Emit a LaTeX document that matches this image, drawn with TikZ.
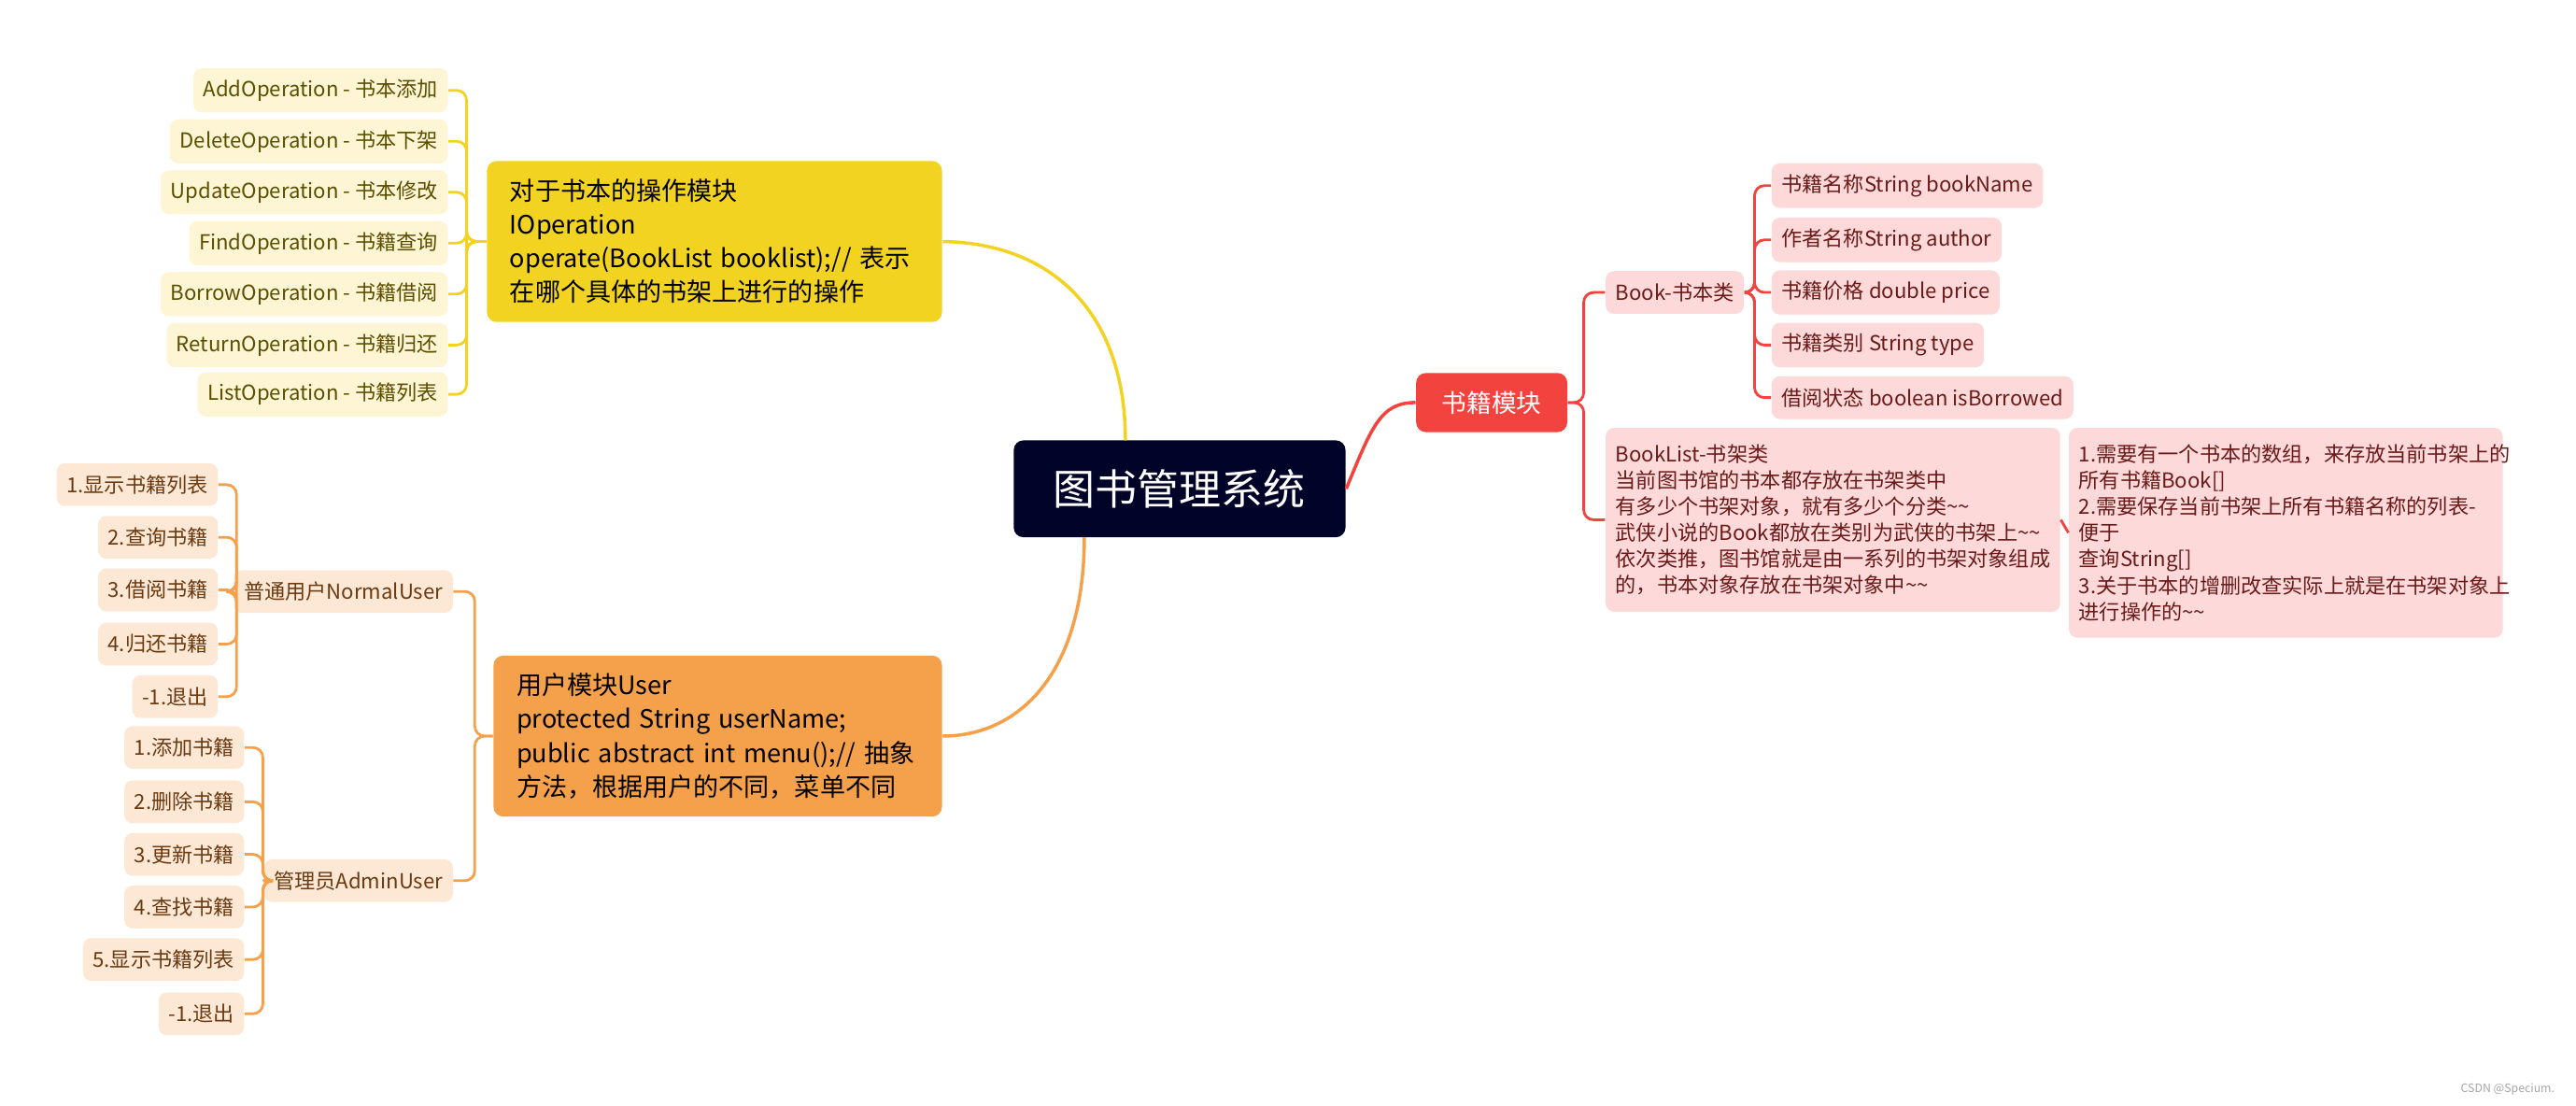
\documentclass[tikz,border=0pt]{standalone}
\usepackage{fontspec}
\setmainfont{Noto Sans CJK SC}
\begin{document}
\begin{tikzpicture}[x=0.5pt,y=-0.5pt,
  lbl/.style={rounded corners=2.5pt,minimum height=13pt,inner xsep=3pt,font=\fontsize{6.3}{8}\selectfont},
  yl/.style={lbl,fill=yfill,text=ytext},
  ol/.style={lbl,fill=ofill,text=otext},
  rl/.style={lbl,fill=rfill,text=rtext},
  ylink/.style={draw=yline,line width=0.8pt,rounded corners=3pt},
  olink/.style={draw=oline,line width=0.8pt,rounded corners=3pt},
  rlink/.style={draw=rline,line width=0.8pt,rounded corners=3pt},
  modbox/.style={rounded corners=3pt,minimum height=49pt,inner xsep=7pt,align=left,font=\fontsize{7.7}{10.25}\selectfont}]
\definecolor{yfill}{HTML}{FDF5D3}\definecolor{ytext}{HTML}{5C4E00}\definecolor{yline}{HTML}{F2D322}
\definecolor{ofill}{HTML}{FDE8D6}\definecolor{otext}{HTML}{6B3A10}\definecolor{oline}{HTML}{F5A04B}
\definecolor{rfill}{HTML}{FDD9D9}\definecolor{rtext}{HTML}{6B1A1A}\definecolor{rline}{HTML}{F2433F}
\useasboundingbox[fill=white] (0,0) rectangle (1568,673);
% center
\node[fill={rgb,255:red,2;green,3;blue,40},text=white,rounded corners=3pt,minimum width=101pt,minimum height=29.5pt,font=\fontsize{12.8}{14}\selectfont] (c) at (718,297.5) {图书管理系统};
% yellow module
\node[modbox,fill=yline,text width=124.5pt,anchor=west] (y) at (296,147) {对于书本的操作模块\\IOperation\\operate(BookList booklist);// 表示\\在哪个具体的书架上进行的操作};
% orange module
\node[modbox,fill=oline,text width=122.5pt,anchor=west] (o) at (300,448) {用户模块User\\protected String userName;\\public abstract int menu();// 抽象\\方法，根据用户的不同，菜单不同};
% red module
\node[fill=rline,text=white,rounded corners=3pt,minimum width=46pt,minimum height=18pt,font=\fontsize{7.6}{9}\selectfont] (r) at (908,245) {书籍模块};
\draw[yline,line width=1pt] (685,268) .. controls (685,190) and (640,148) .. (y.east);
\draw[oline,line width=1pt] (660,327) .. controls (660,410) and (620,448) .. (o.east);
\draw[rline,line width=1pt] (c.east) .. controls (835,260) and (840,245) .. (r.west);
% yellow children
\foreach \n/\t/\yy in {ya/AddOperation - 书本添加/55,yb/DeleteOperation - 书本下架/86,yc/UpdateOperation - 书本修改/117,yd/FindOperation - 书籍查询/148,ye/BorrowOperation - 书籍借阅/179,yf/ReturnOperation - 书籍归还/210,yg/ListOperation - 书籍列表/240}{
  \node[yl,anchor=east] (\n) at (273,\yy) {\t};
  \draw[ylink] (y.west) -- (284,147) |- (\n.east);
}
% orange children
\node[ol,anchor=east] (nu) at (276,360) {普通用户NormalUser};
\node[ol,anchor=east] (au) at (276,536) {管理员AdminUser};
\foreach \n in {nu,au}{\draw[olink] (o.west) -- (289,448) |- (\n.east);}
\foreach \n/\t/\yy in {n1/1.显示书籍列表/295,n2/2.查询书籍/327,n3/3.借阅书籍/359,n4/4.归还书籍/392,n5/-1.退出/424}{
  \node[ol,anchor=east] (\n) at (133,\yy) {\t};
  \draw[olink] (nu.west) -- (144,360) |- (\n.east);
}
\foreach \n/\t/\yy in {a1/1.添加书籍/455,a2/2.删除书籍/488,a3/3.更新书籍/520,a4/4.查找书籍/552,a5/5.显示书籍列表/584,a6/-1.退出/617}{
  \node[ol,anchor=east] (\n) at (149,\yy) {\t};
  \draw[olink] (au.west) -- (160,536) |- (\n.east);
}
% red children
\node[rl,anchor=west] (bk) at (977,178) {Book-书本类};
\node[rl,anchor=north west,align=left,inner ysep=5pt,minimum height=51pt,font=\fontsize{6.3}{8}\selectfont] (bl) at (977,260) {BookList-书架类\\当前图书馆的书本都存放在书架类中\\有多少个书架对象，就有多少个分类\textasciitilde\textasciitilde\\武侠小说的Book都放在类别为武侠的书架上\textasciitilde\textasciitilde\\依次类推，图书馆就是由一系列的书架对象组成\\的，书本对象存放在书架对象中\textasciitilde\textasciitilde};
\node[rl,anchor=north west,align=left,inner ysep=5pt,minimum height=51pt,text width=126pt,font=\fontsize{6.3}{8}\selectfont] (bn) at (1259,260) {1.需要有一个书本的数组，来存放当前书架上的\\所有书籍Book[]\\2.需要保存当前书架上所有书籍名称的列表-便于\\查询String[]\\3.关于书本的增删改查实际上就是在书架对象上\\进行操作的\textasciitilde\textasciitilde};
\foreach \n in {bk,bl}{\draw[rlink] (r.east) -- (964,245) |- (\n.west);}
\draw[rlink] (bl.east) -- (bn.west);
\foreach \n/\t/\yy in {b1/书籍名称String bookName/113,b2/作者名称String author/146,b3/书籍价格 double price/178,b4/书籍类别 String type/210,b5/借阅状态 boolean isBorrowed/242}{
  \node[rl,anchor=west] (\n) at (1078,\yy) {\t};
  \draw[rlink] (bk.east) -- (1068,178) |- (\n.west);
}
\node[text=gray!70,font=\fontsize{3.5}{4}\selectfont,anchor=east] (wm) at (1562,663) {CSDN @Specium.};
\end{tikzpicture}
\end{document}
